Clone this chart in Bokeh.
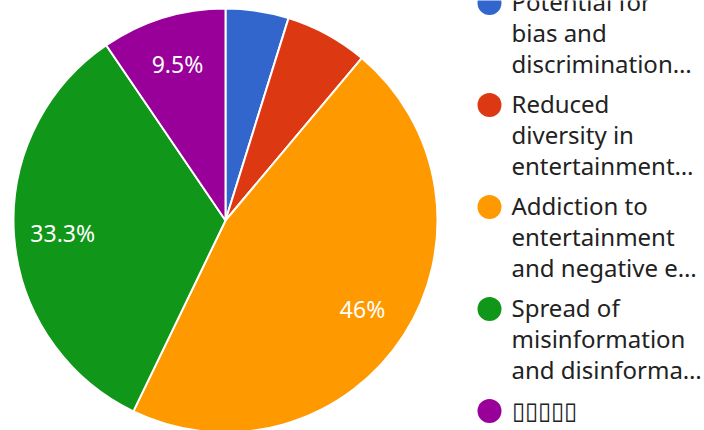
import math
from bokeh.plotting import figure
from bokeh.models import Range1d, ColumnDataSource
from bokeh.core.properties import value
from bokeh.embed import file_html
from bokeh.resources import INLINE

# ---- data ----
categories = [
    "Potential for\nbias and\ndiscrimination…",
    "Reduced\ndiversity in\nentertainment…",
    "Addiction to\nentertainment\nand negative e…",
    "Spread of\nmisinformation\nand disinforma…",
    "▯▯▯▯▯",
]
shares = [4.8, 6.3, 46.0, 33.3, 9.5]          # percent of responses
slice_labels = ["", "", "46%", "33.3%", "9.5%"]
colors = ["#3366cc", "#dc3912", "#ff9900", "#109618", "#990099"]

FONT = "Noto Sans"

W, H = 704, 430
p = figure(width=W, height=H, output_backend="svg", toolbar_location=None,
           x_range=Range1d(0, W), y_range=Range1d(0, H),
           min_border=0)
p.axis.visible = False
p.grid.visible = False
p.outline_line_color = None
p.background_fill_color = "white"

cx, cy, R = 225, 210, 212
total = sum(shares)
starts, ends, lx, ly = [], [], [], []
cum = 0.0
for s in shares:
    a0 = math.pi / 2 - 2 * math.pi * cum / total
    cum += s
    a1 = math.pi / 2 - 2 * math.pi * cum / total
    starts.append(a0)
    ends.append(a1)
    mid = (a0 + a1) / 2
    lx.append(cx + 0.77 * R * math.cos(mid))
    ly.append(cy + 0.77 * R * math.sin(mid))

src = ColumnDataSource(dict(start=starts, end=ends, color=colors,
                            lx=lx, ly=ly, lab=slice_labels))
p.wedge(x=cx, y=cy, radius=R, start_angle="start", end_angle="end",
        direction="clock", fill_color="color", line_color="white",
        line_width=2, source=src)
p.text(x="lx", y="ly", text="lab", source=src, text_color="white",
       text_font=value(FONT), text_font_size="23px", text_align="center",
       text_baseline="middle")

# ---- legend ----
tx, ty, tt = [], [], []
mx, my = [], []
first_base = 430 - 11.5
item_gap = 102
line_gap = 31
for i, cat in enumerate(categories):
    base = first_base - i * item_gap
    mx.append(489)
    my.append(base + 9)
    for j, line in enumerate(cat.split("\n")):
        tx.append(511)
        ty.append(base - j * line_gap + 10.5)
        tt.append(line)

p.scatter(x=mx, y=my, size=24, marker="circle", fill_color=colors,
          line_color=None)
p.text(x=tx, y=ty, text=tt, text_color="#222222", text_font=value(FONT),
       text_font_size="24px", text_align="left", text_baseline="alphabetic")

open("out.html", "w").write(file_html(p, INLINE))
